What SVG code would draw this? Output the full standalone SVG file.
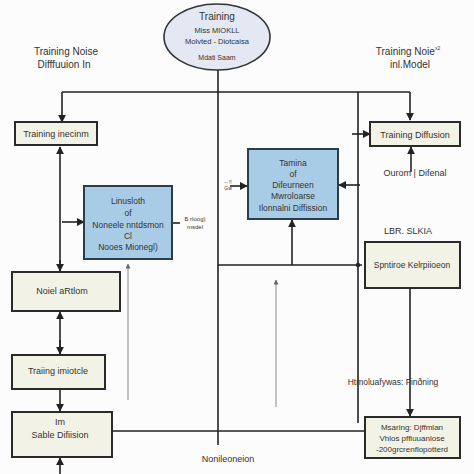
<svg xmlns="http://www.w3.org/2000/svg" width="474" height="474" viewBox="0 0 474 474">
<defs>
<marker id="ah" viewBox="0 0 10 10" refX="9" refY="5" markerWidth="5" markerHeight="5" orient="auto"><path d="M0,0 L10,5 L0,10 z" fill="#222"/></marker>
<marker id="ahg" viewBox="0 0 10 10" refX="9" refY="5" markerWidth="5" markerHeight="5" orient="auto"><path d="M0,0 L10,5 L0,10 z" fill="#666"/></marker>
<style>
.t{font-family:"Liberation Sans",Arial,sans-serif;fill:#333;text-anchor:middle}
.box{fill:#f3f2e6;stroke:#2a2a2a;stroke-width:2}
.blue{fill:#a9cce6;stroke:#2d3d4c;stroke-width:2}
.ln{stroke:#222;stroke-width:1.6;fill:none}
.lg{stroke:#888;stroke-width:1;fill:none}
</style>
</defs>
<rect width="474" height="474" fill="#fcfcfc"/>
<g id="connectors">
<path class="ln" d="M62,92 H410"/>
<path class="ln" d="M218,70 V445"/>
<path class="ln" d="M358,92 V423"/>
<path class="ln" d="M62,92 V122" marker-end="url(#ah)"/>
<path class="ln" d="M410,92 V120" marker-end="url(#ah)"/>
<path class="ln" d="M60,165 V147" marker-end="url(#ah)"/>
<path class="ln" d="M60,165 V272"/>
<path class="ln" d="M62,222 H84" marker-end="url(#ah)"/>
<path class="ln" d="M60,260 V271" marker-end="url(#ah)"/>
<path class="ln" d="M352,134 H370" marker-end="url(#ah)"/>
<path class="ln" d="M411,172 V147" marker-end="url(#ah)"/>
<path class="ln" d="M230,186 H247" marker-end="url(#ah)"/>
<path class="ln" d="M360,185 H339" marker-end="url(#ah)"/>
<path class="ln" d="M292,265 V220" marker-end="url(#ah)"/>
<path class="ln" d="M172,223 H180"/>
<path class="ln" d="M218,265 H362"/>
<circle cx="358" cy="265" r="2.2" fill="#222"/>
<path class="lg" d="M128,400 V264" marker-end="url(#ahg)"/>
<path class="lg" d="M276,407 V280" marker-end="url(#ahg)"/>
<path class="ln" d="M60,355 V312" marker-end="url(#ah)"/>
<path class="ln" d="M60,340 V354" marker-end="url(#ah)"/>
<path class="ln" d="M60,389 V411" marker-end="url(#ah)"/>
<path class="ln" d="M112,431 H365"/>
<path class="ln" d="M60,474 V458" marker-end="url(#ah)"/>
<path class="ln" d="M410,288 V416" marker-end="url(#ah)"/>
</g>
<g id="n-ellipse">
<ellipse cx="217" cy="37" rx="53" ry="33" fill="#e4e8f2" stroke="#333" stroke-width="1.6"/>
<text class="t" x="217" y="20" font-size="10">Training</text>
<text class="t" x="217" y="33" font-size="7.5">Miss  MIOKLL</text>
<text class="t" x="217" y="44" font-size="7.5">Molvted  - Diotcaisa</text>
<text class="t" x="217" y="60" font-size="7">Mdati Saam</text>
</g>
<g id="n-title-left">
<text class="t" x="66" y="55" font-size="10">Training Noise</text>
<text class="t" x="64" y="68" font-size="10">Difffuuion In</text>
</g>
<g id="n-title-right">
<text class="t" x="408" y="55" font-size="10">Training Noie<tspan font-size="5" dy="-5">x2</tspan></text>
<text class="t" x="410" y="68" font-size="10">inl.Model</text>
</g>
<g id="n-train-inec">
<rect class="box" x="15" y="122" width="82" height="23"/>
<text class="t" x="56" y="137" font-size="9">Training inecinm</text>
</g>
<g id="n-train-diff">
<rect class="box" x="370" y="122" width="90" height="24"/>
<text class="t" x="415" y="138" font-size="9">Training Diffusion</text>
<text class="t" x="415" y="176" font-size="9">Ourom | Difenal</text>
</g>
<g id="n-blue-center">
<rect class="blue" x="248" y="149" width="90" height="70"/>
<text class="t" x="293" y="166" font-size="8.5">Tamina</text>
<text class="t" x="293" y="177" font-size="8.5">of</text>
<text class="t" x="293" y="188" font-size="8.5">Difeurneen</text>
<text class="t" x="293" y="199" font-size="8.5">Mwroloarse</text>
<text class="t" x="293" y="211" font-size="8.5">Ilonnalni Diffission</text>
<text class="t" x="228" y="184" font-size="5">-- !!</text>
<text class="t" x="228" y="190" font-size="5">Gw</text>
</g>
<g id="n-blue-left">
<rect class="blue" x="84" y="186" width="88" height="73"/>
<text class="t" x="128" y="204" font-size="8.5">Linusloth</text>
<text class="t" x="128" y="216" font-size="8.5">of</text>
<text class="t" x="128" y="228" font-size="8.5">Noneele nntdsmon</text>
<text class="t" x="128" y="239" font-size="8.5">Cl</text>
<text class="t" x="128" y="250" font-size="8.5">Nooes Mionegl)</text>
<text class="t" x="195" y="221" font-size="6">Б rloog)</text>
<text class="t" x="195" y="229" font-size="6">msdel</text>
</g>
<g id="n-noiel">
<rect class="box" x="12" y="272" width="108" height="39"/>
<text class="t" x="62" y="294" font-size="9">Noiel aRtlom</text>
</g>
<g id="n-spntiroe">
<text class="t" x="408" y="234" font-size="9">LBR. SLKIA</text>
<rect class="box" x="365" y="242" width="95" height="46"/>
<text class="t" x="412" y="268" font-size="8.5">Spntiroe Kelrpiioeon</text>
</g>
<g id="n-traiing">
<rect class="box" x="12" y="355" width="93" height="34"/>
<text class="t" x="58" y="374" font-size="9">Traiing imiotcle</text>
</g>
<g id="n-sable">
<rect class="box" x="12" y="412" width="100" height="45"/>
<text class="t" x="60" y="425" font-size="9">Im</text>
<text class="t" x="60" y="438" font-size="9">Sable Difiision</text>
</g>
<g id="n-msaring">
<text class="t" x="393" y="385" font-size="8.5">Htmoluafywas: Finðning</text>
<rect class="box" x="365" y="417" width="95" height="41"/>
<text class="t" x="412" y="430" font-size="8">Msaring: Djffmlan</text>
<text class="t" x="412" y="441" font-size="8">Vhlos pffiuuanlose</text>
<text class="t" x="412" y="452" font-size="8">-200grcrenflopotterd</text>
</g>
<text class="t" x="228" y="462" font-size="9">Nonileoneion</text>
</svg>
